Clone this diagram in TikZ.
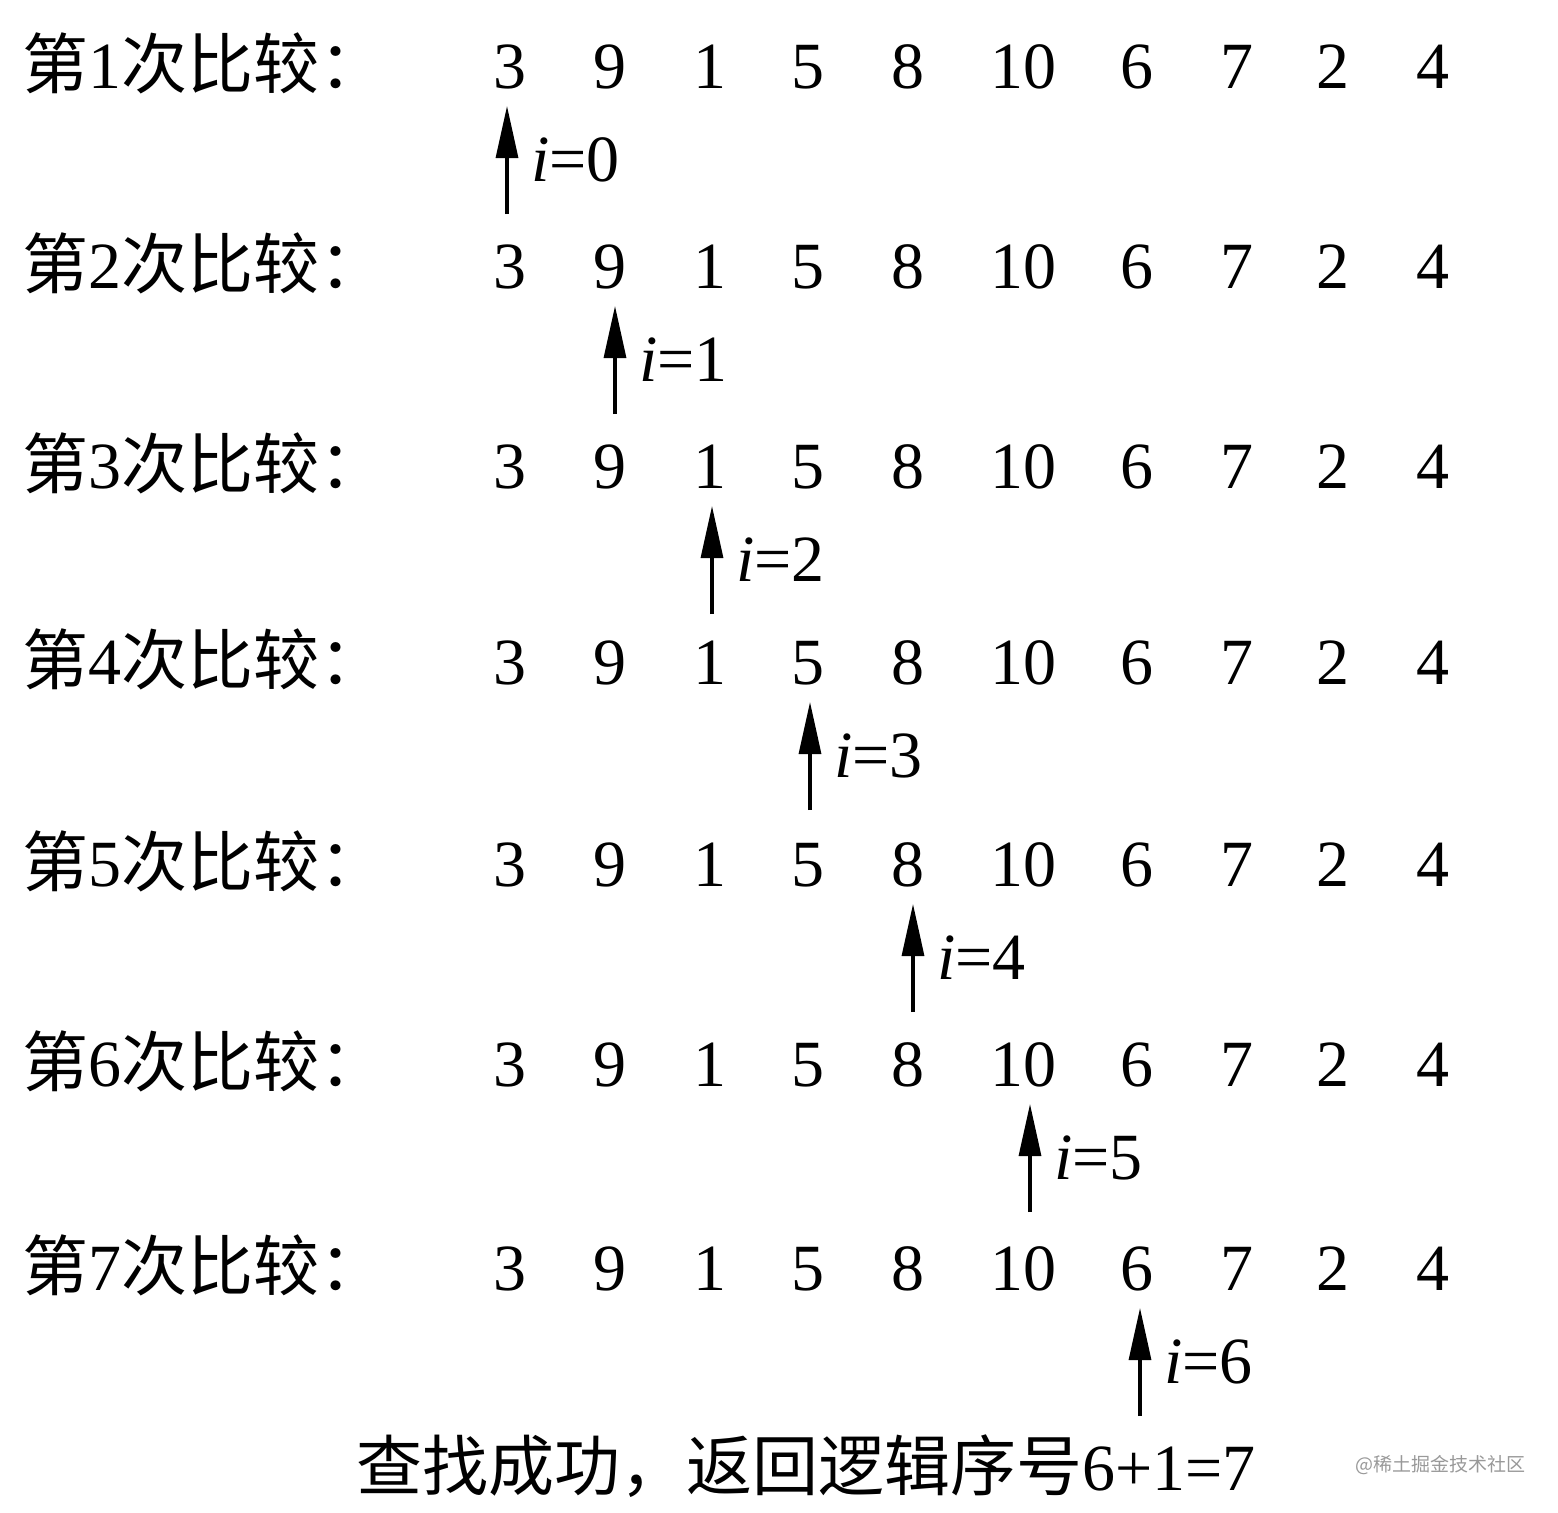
\documentclass[tikz,border=0pt]{standalone}
\usepackage{fontspec}
\setmainfont{Liberation Serif}
\newfontfamily\cjk{Noto Sans CJK SC}
\usetikzlibrary{arrows.meta,positioning}

\tikzset{
  big/.style={inner sep=0pt,font=\fontsize{33pt}{33pt}\selectfont},
  num/.style={big,anchor=base},
  lab/.style={big,anchor=base west},
  idx/.style={big,anchor=west},
  ptr/.style={line width=1.6pt,-{Triangle[length=26pt,width=11pt]}},
  wm/.style={inner sep=0pt,font=\cjk\fontsize{9.5pt}{9.5pt}\selectfont,text=black!40},
}

\begin{document}
\begin{tikzpicture}[x=0.5pt,y=-0.5pt]
\useasboundingbox (0,0) rectangle (1558,1512);
% rows of the search
\foreach \r/\y/\dx in {1/88/-3,2/288/5,3/488/2,4/684/2,5/886/5,6/1086/7,7/1290/3}{
  \node[lab] (lab\r) at (22,\y) {\cjk 第\rmfamily\r\cjk 次比较：};
  \foreach \x/\v [count=\c] in {510/3,610/9,710/1,808/5,908/8,1023/10,1137/6,1237/7,1333/2,1433/4}
    \node[num] (n\r-\c) at (\x,\y) {\v};
  % pointer i
  \pgfmathtruncatemacro\k{\r-1}
  \coordinate (a\r) at ([xshift=\dx*0.5pt,yshift=-63pt]n\r-\r.base);
  \coordinate (t\r) at ([xshift=\dx*0.5pt,yshift=-9pt]n\r-\r.base);
  \draw[ptr] (a\r) -- (t\r) coordinate[midway] (m\r);
  \node[idx,right=12pt of m\r] (i\r) {\itshape i\upshape=\k};
}
\node[lab] (result) at (356,1490) {\cjk 查找成功，返回逻辑序号\rmfamily 6+1=7};
\node[wm] (mark) at (1440,1465) {@稀土掘金技术社区};
\end{tikzpicture}
\end{document}
